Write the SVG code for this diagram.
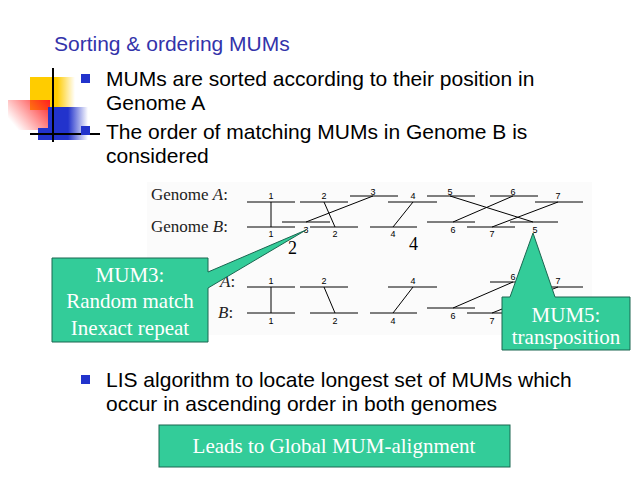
<svg xmlns="http://www.w3.org/2000/svg" width="638" height="478" viewBox="0 0 638 478">
<defs>
<linearGradient id="gy" x1="0" x2="1"><stop offset="0" stop-color="#FFCC00"/><stop offset="0.6" stop-color="#FFCC00"/><stop offset="1" stop-color="#FFCC00" stop-opacity="0"/></linearGradient>
<linearGradient id="gr" x1="1" x2="0" y1="0" y2="0.6"><stop offset="0" stop-color="#FF2020"/><stop offset="1" stop-color="#FF2020" stop-opacity="0"/></linearGradient>
<linearGradient id="gb" x1="0" x2="1"><stop offset="0" stop-color="#2233CC"/><stop offset="0.5" stop-color="#2233CC"/><stop offset="1" stop-color="#2233CC" stop-opacity="0"/></linearGradient>
<style>
.t{font-family:"Liberation Sans",Arial,sans-serif;font-size:21px;fill:#000}
.s{stroke:#000;stroke-width:1;fill:none}
.n{font-family:"Liberation Sans",Arial,sans-serif;font-size:9px;fill:#000;text-anchor:middle}
.g{font-family:"Liberation Serif",serif;font-size:17px;fill:#222}
.c{fill:#33CC99;stroke:#1a6650;stroke-width:1}
.ct{font-family:"Liberation Serif",serif;font-size:21px;fill:#fff;text-anchor:middle}
</style>
</defs>
<rect width="638" height="478" fill="#fff"/>
<g id="logo">
<rect x="30" y="77" width="45" height="33" fill="url(#gy)"/>
<rect x="8" y="100" width="42" height="30" fill="url(#gr)"/>
<rect x="48" y="107" width="40" height="33" fill="url(#gb)"/>
<rect x="38" y="128" width="12" height="12" fill="#2233CC"/>
<line x1="53" y1="68" x2="53" y2="142" stroke="#000" stroke-width="2"/>
<line x1="30" y1="134" x2="100" y2="134" stroke="#000" stroke-width="2"/>
</g>
<text x="54" y="51" font-family="Liberation Sans,Arial,sans-serif" font-size="21" fill="#3333AA">Sorting &amp; ordering MUMs</text>
<g id="bullets" fill="#2233CC">
<rect x="81" y="74" width="9" height="9"/><rect x="81" y="126" width="9" height="9"/><rect x="81" y="375" width="9" height="9"/>
</g>
<text class="t" x="106" y="86">MUMs are sorted according to their position in</text>
<text class="t" x="106" y="110">Genome A</text>
<text class="t" x="106" y="139">The order of matching MUMs in Genome B is</text>
<text class="t" x="106" y="163">considered</text>
<text class="t" x="106" y="387">LIS algorithm to locate longest set of MUMs which</text>
<text class="t" x="106" y="411">occur in ascending order in both genomes</text>
<g id="figure">
<rect x="147" y="182" width="445" height="153" fill="#fbfbfb"/>
<text class="g" x="151" y="200">Genome <tspan font-style="italic">A</tspan>:</text>
<text class="g" x="151" y="232">Genome <tspan font-style="italic">B</tspan>:</text>
<text class="g" x="220" y="287"><tspan font-style="italic">A</tspan>:</text>
<text class="g" x="218" y="318"><tspan font-style="italic">B</tspan>:</text>
<g class="s">
<path d="M247 202h48M300 202h48M350 196h48M388 202h49M427 196h48M490 196h48M535 202h48"/>
<path d="M282 222h48M247 227h48M310 227h48M370 227h47M427 222h48M467 227h48M510 222h48"/>
<path d="M271 202V227M324 202L335 227M373 196L306 222M413 202L393 227M450 196L533 222M513 196L453 222M558 202L492 227"/>
<path d="M247 287h48M300 287h48M388 287h49M490 282h48M535 287h48"/>
<path d="M247 313h48M310 313h48M370 313h47M427 308h48M467 313h48"/>
<path d="M271 287V313M324 287L335 313M413 287L393 313M513 282L453 308M558 287L492 313"/>
</g>
<g class="n">
<text x="271" y="199">1</text><text x="324" y="199">2</text><text x="373" y="195">3</text><text x="413" y="199">4</text><text x="450" y="195">5</text><text x="513" y="195">6</text><text x="558" y="199">7</text>
<text x="271" y="237">1</text><text x="306" y="233">3</text><text x="335" y="237">2</text><text x="393" y="237">4</text><text x="453" y="233">6</text><text x="492" y="237">7</text><text x="535" y="233">5</text>
<text x="271" y="284">1</text><text x="324" y="284">2</text><text x="413" y="284">4</text><text x="513" y="280">6</text><text x="558" y="284">7</text>
<text x="271" y="324">1</text><text x="335" y="324">2</text><text x="393" y="324">4</text><text x="453" y="319">6</text><text x="492" y="324">7</text>
</g>
<text x="288" y="254" font-family="Liberation Serif,serif" font-size="18">2</text>
<text x="409" y="250" font-family="Liberation Serif,serif" font-size="18">4</text>
</g>
<g id="callout3">
<path class="c" d="M52 258H208V272L306 230L208 288V342H52Z"/>
<text class="ct" x="130" y="282">MUM3:</text>
<text class="ct" x="130" y="308">Random match</text>
<text class="ct" x="130" y="335">Inexact repeat</text>
</g>
<g id="callout5">
<path class="c" d="M502 297H510L533 233L555 297H630V350H502Z"/>
<text class="ct" x="566" y="322">MUM5:</text>
<text class="ct" x="566" y="344">transposition</text>
</g>
<g id="lead">
<rect class="c" x="159" y="425" width="351" height="42"/>
<text class="ct" x="334" y="453">Leads to Global MUM-alignment</text>
</g>
</svg>
